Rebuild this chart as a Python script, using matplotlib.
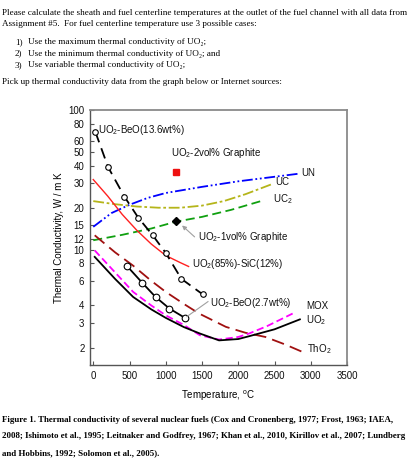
import matplotlib
matplotlib.use("Agg")
import matplotlib.pyplot as plt

plt.rcParams["font.family"] = ["Liberation Sans", "DejaVu Sans"]
plt.rcParams["mathtext.fontset"] = "custom"
plt.rcParams["mathtext.rm"] = "Liberation Sans"
plt.rcParams["mathtext.it"] = "Liberation Sans:italic"

# ---- data (temperature in C, conductivity W/m K) ----
beo136_t = [30, 205, 430, 620, 820, 1000, 1215, 1510]
beo136_k = [69.5, 39, 24, 17, 12.7, 9.5, 6.2, 4.8]

beo27_t = [471, 677, 859, 1051, 1260]
beo27_k = [7.6, 5.8, 4.6, 3.8, 3.27]

sic_t = [0, 200, 400, 600, 800, 1000, 1200, 1315]
sic_k = [31.8, 24.2, 17.9, 13.8, 11.0, 9.1, 8.1, 7.6]

un_t = [0, 250, 500, 750, 1000, 1500, 2000, 2500, 2830]
un_k = [14.6, 18.3, 21.0, 23.5, 25.5, 28.2, 30.9, 33.3, 35.0]

uc_t = [0, 300, 600, 900, 1200, 1500, 1800, 2100, 2450]
uc_k = [22.3, 21.2, 20.4, 20.0, 20.0, 20.7, 22.3, 25.0, 29.3]

uc2_t = [0, 400, 800, 1142, 1500, 1900, 2350]
uc2_k = [11.7, 12.8, 14.2, 15.9, 17.2, 19.3, 22.6]

mox_t = [20, 300, 550, 800, 1000, 1250, 1470, 1735, 2000, 2150, 2400, 2750]
mox_k = [9.9, 6.9, 5.0, 4.0, 3.4, 2.9, 2.45, 2.28, 2.38, 2.52, 2.85, 3.5]

uo2_t = [20, 300, 550, 800, 1000, 1250, 1470, 1735, 2000, 2150, 2500, 2850]
uo2_k = [8.9, 6.2, 4.6, 3.75, 3.26, 2.8, 2.52, 2.25, 2.3, 2.41, 2.7, 3.18]

tho2_t = [20, 300, 550, 800, 1000, 1250, 1460, 1830, 2100, 2375, 2650, 2950]
tho2_k = [12.7, 9.6, 7.7, 6.0, 5.0, 4.1, 3.5, 2.81, 2.55, 2.38, 2.1, 1.8]

graphite1_t, graphite1_k = [1142], [15.96]
graphite2_t, graphite2_k = [1142], [36.3]

x_ticks = [0, 500, 1000, 1500, 2000, 2500, 3000, 3500]
y_ticks = [2, 3, 4, 6, 8, 10, 12, 15, 20, 30, 40, 50, 60, 80, 100]

W, H = 419, 471
fig = plt.figure(figsize=(W / 100, H / 100), dpi=100)
fig.patch.set_facecolor("white")


def px(x, y):
    return x / W, 1 - y / H


serif = ["Liberation Serif", "DejaVu Serif"]
fs_top = 6.6
# baselines sit ~3 px below the visual line centres
fig.text(*px(2, 15), "Please calculate the sheath and fuel centerline temperatures at the outlet "
         "of the fuel channel with all data from", family=serif, fontsize=fs_top, va="baseline")
fig.text(*px(2, 26), "Assignment #5.  For fuel centerline temperature use 3 possible cases:",
         family=serif, fontsize=fs_top, va="baseline")
items = ["Use the maximum thermal conductivity of UO\u2082;",
         "Use the minimum thermal conductivity of UO\u2082; and",
         "Use variable thermal conductivity of UO\u2082;"]
for i, s in enumerate(items):
    y = 44 + i * 11.5
    fig.text(*px(15, y), f"{i + 1})", family=serif, fontsize=fs_top, va="baseline")
    fig.text(*px(28, y), s, family=serif, fontsize=fs_top, va="baseline")
fig.text(*px(2, 84), "Pick up thermal conductivity data from the graph below or Internet sources:",
         family=serif, fontsize=fs_top, va="baseline")

caption = ["Figure 1. Thermal conductivity of several nuclear fuels (Cox and Cronenberg, 1977; "
           "Frost, 1963; IAEA,",
           "2008; Ishimoto et al., 1995; Leitnaker and Godfrey, 1967; Khan et al., 2010, "
           "Kirillov et al., 2007; Lundberg",
           "and Hobbins, 1992; Solomon et al., 2005)."]
for i, s in enumerate(caption):
    fig.text(*px(2, 422 + i * 16.5), s, family=serif, fontsize=6.4, fontweight="bold",
             va="baseline")

ax = fig.add_axes([90 / W, 1 - 365 / H, 257 / W, 255 / H])
ax.set_yscale("log")
ax.set_xlim(-45, 3500)
ax.set_ylim(1.5, 100)

lw = 1.3
ax.plot(un_t, un_k, color="#0000ff", lw=lw, dashes=(6, 1.5, 1, 1.5, 1, 1.5))
ax.plot(uc_t, uc_k, color="#b5b51a", lw=lw, dashes=(6, 1.5, 1.5, 1.5))
ax.plot(uc2_t, uc2_k, color="#10a010", lw=lw, dashes=(5, 2.5))
ax.plot(sic_t, sic_k, color="#ff2020", lw=1.0)
ax.plot(tho2_t, tho2_k, color="#a01010", lw=lw, dashes=(7, 3.5))
ax.plot(mox_t, mox_k, color="#ff00ff", lw=lw, dashes=(4, 2))
ax.plot(uo2_t, uo2_k, color="black", lw=lw)
ax.plot(beo136_t, beo136_k, color="black", lw=lw, dashes=(6, 3.5),
        marker="o", ms=4, mfc="white", mec="black", mew=0.8)
ax.plot(beo27_t, beo27_k, color="black", lw=lw,
        marker="o", ms=4.8, mfc="white", mec="black", mew=0.8)
ax.plot(graphite1_t, graphite1_k, "D", color="black", ms=4.5)
ax.plot(graphite2_t, graphite2_k, "s", color="#ee1111", ms=5)

# leader lines
ax.annotate("", xy=(1196, 15.4), xytext=(1426, 12.0),
            arrowprops=dict(arrowstyle="-|>", color="#a0a0a0", lw=0.8, mutation_scale=6))
ax.plot([1582, 1292], [4.26, 3.33], color="#a0a0a0", lw=0.8)

fs = 7
labels = [
    (60, 72, "UO$_2$-BeO(13.6wt%)"),
    (1072, 49.4, "UO$_2$-2vol% Graphite"),
    (2874, 35.6, "UN"),
    (2506, 30.5, "UC"),
    (2484, 23.2, "UC$_2$"),
    (1444, 12.4, "UO$_2$-1vol% Graphite"),
    (1357, 7.96, "UO$_2$(85%)-SiC(12%)"),
    (1610, 4.17, "UO$_2$-BeO(2.7wt%)"),
    (2934, 3.94, "MOX"),
    (2934, 3.13, "UO$_2$"),
    (2950, 1.94, "ThO$_2$"),
]
for x, y, s in labels:
    ax.text(x, y, s, fontsize=fs, ha="left", va="center", color="#111111")

ax.set_xticks(x_ticks)
ax.set_yticks(y_ticks)
ax.set_yticklabels([str(v) for v in y_ticks])
ax.minorticks_off()
ax.tick_params(direction="in", length=3, width=0.8, labelsize=fs, color="#555555",
               labelcolor="#111111", pad=4)
for side in ["left", "bottom"]:
    ax.spines[side].set_color("#555555")
    ax.spines[side].set_linewidth(1.0)
for side in ["top", "right"]:
    ax.spines[side].set_color("#8a8a8a")
    ax.spines[side].set_linewidth(1.3)

ax.set_xlabel("Temperature, $^{\\mathrm{o}}$C", fontsize=fs, labelpad=6)
ax.set_ylabel("Thermal Conductivity, W / m K", fontsize=fs, labelpad=3)

fig.savefig("out.png", dpi=100, facecolor="white")
